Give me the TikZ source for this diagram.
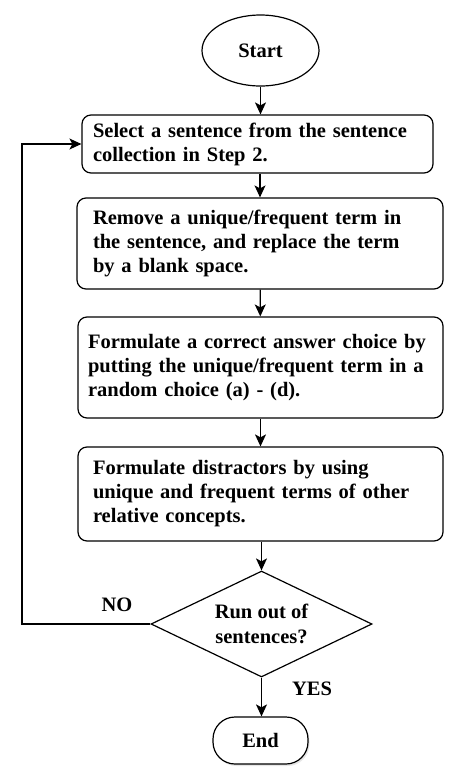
\documentclass[tikz,border=0pt]{standalone}
\usepackage{fontspec}
\setmainfont{Liberation Serif}
\usepackage{tikz}
\usetikzlibrary{shapes.geometric,arrows.meta,shadows}
\tikzset{
  stepbox/.style={draw, line width=1.2pt, rounded corners=9pt, align=left,
    font=\bfseries\fontsize{20.5}{24}\selectfont, inner ysep=0pt},
  terminal/.style={draw, fill=white, line width=1.2pt, font=\bfseries\fontsize{20.5}{24}\selectfont, inner sep=0pt},
  decision/.style={draw, diamond, line width=1.2pt, aspect=2.08, inner sep=0pt,
    align=center, font=\bfseries\fontsize{20.5}{25}\selectfont},
  flow/.style={line width=1.2pt, -{Stealth[length=12pt,width=11pt,inset=3pt]}},
  answer/.style={font=\bfseries\fontsize{20.5}{24}\selectfont},
}

\begin{document}
\begin{tikzpicture}[x=1pt,y=-1pt]
    \useasboundingbox (0,0) rectangle (474,782);

    \node [terminal, ellipse, minimum width=117pt, minimum height=71pt] (start) at (260.5,50.5) {Start};

    \node [stepbox, text width=329pt, inner xsep=11pt, minimum height=58pt] (select) at (257.5,144)
      {Select a sentence from the sentence\\collection in Step 2.};
    \node [stepbox, text width=334pt, inner xsep=16pt, minimum height=91pt] (remove) at (260,243.5)
      {Remove a unique/frequent term in\\the sentence, and replace the term\\by a blank space.};
    \node [stepbox, text width=345pt, inner xsep=10pt, minimum height=101pt] (answer) at (260.5,367.5)
      {Formulate a correct answer choice by\\putting the unique/frequent term in a\\random choice (a) - (d).};
    \node [stepbox, text width=335pt, inner xsep=15pt, minimum height=94pt] (distract) at (260.5,494)
      {Formulate distractors by using\\unique and frequent terms of other\\relative concepts.};

    \node [decision, minimum width=221pt, minimum height=106pt] (runout) at (261.5,624)
      {Run out of\\sentences?};

    \node [terminal, rounded corners=22pt, minimum width=95pt, minimum height=47pt,
      drop shadow={shadow xshift=1.5pt, shadow yshift=-2pt, opacity=.2}] (end) at (260.5,740.5) {End};

    \coordinate (loopx) at (22,0);

    \draw [flow] (start) -- (start |- select.north);
    \draw [flow] (select.south -| remove) -- (remove);
    \draw [flow] (remove) -- (answer);
    \draw [flow] (answer) -- (distract);
    \draw [flow] (distract.south -| runout) -- (runout);
    \draw [flow] (runout) -- (runout |- end.north);
    \draw [flow] (runout.west) -- (runout.west -| loopx) |- (select.west);

    \node [answer] (no) at (117,605) {NO};
    \node [answer] (yes) at (312,689) {YES};

  \end{tikzpicture}
\end{document}
